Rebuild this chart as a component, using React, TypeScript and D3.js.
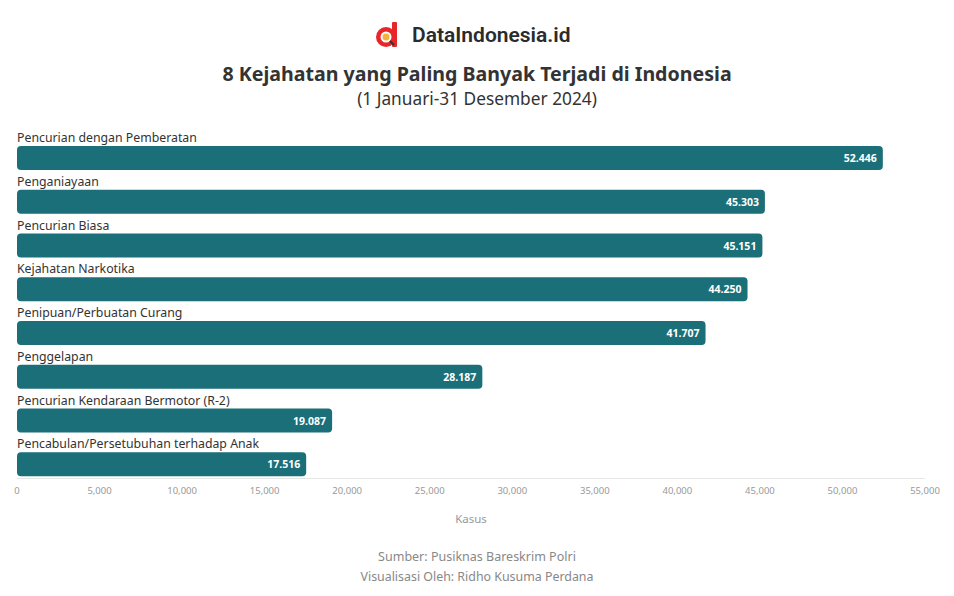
import React from "react";
import * as d3 from "d3";

const categories = [
  "Pencurian dengan Pemberatan",
  "Penganiayaan",
  "Pencurian Biasa",
  "Kejahatan Narkotika",
  "Penipuan/Perbuatan Curang",
  "Penggelapan",
  "Pencurian Kendaraan Bermotor (R-2)",
  "Pencabulan/Persetubuhan terhadap Anak",
];
const values = [52446, 45303, 45151, 44250, 41707, 28187, 19087, 17516];
const ticks = [0, 5000, 10000, 15000, 20000, 25000, 30000, 35000, 40000, 45000, 50000, 55000];

const W = 954;
const H = 596;
const FONT = "'Noto Sans', 'Open Sans', sans-serif";

export default function App() {
  const x = d3.scaleLinear().domain([0, 55000]).range([17, 925]);
  const y = d3.scaleBand<string>().domain(categories).range([128, 478]).paddingInner(0).paddingOuter(0);
  const fmt = (v: number) => d3.format(",")(v).replace(/,/g, ".");
  const fmtTick = (v: number) => d3.format(",")(v);
  const barH = 24;
  return (
    <svg width={W} height={H} style={{ position: "absolute", left: 0, top: 0, background: "#fff" }} fontFamily={FONT}>
      {/* logo */}
      <g transform="translate(376,22)">
        <circle cx={10} cy={15} r={10} fill="#e8262a" />
        <rect x={16} y={0} width={5} height={25} rx={1} fill="#e8262a" />
        <circle cx={10} cy={15} r={5.5} fill="#fff" />
        <circle cx={10} cy={15} r={3.5} fill="#f3b23a" />
        <line x1={14} y1={19} x2={18} y2={23} stroke="#333" strokeWidth={2} />
      </g>
      <text x={412} y={42} fontSize={21} fontWeight={600} fill="#2b2b2b" fontFamily="Roboto, sans-serif">DataIndonesia.id</text>
      <text x={477} y={81} textAnchor="middle" fontSize={19.6} fontWeight={700} fill="#333">8 Kejahatan yang Paling Banyak Terjadi di Indonesia</text>
      <text x={477} y={105} textAnchor="middle" fontSize={17.3} fill="#333">(1 Januari-31 Desember 2024)</text>

      <line x1={17} x2={925} y1={478.5} y2={478.5} stroke="#e6e6e6" />
      {categories.map((c, i) => {
        const y0 = (y(c) as number) + 18;
        const xe = x(values[i]);
        return (
          <g key={c}>
            <text x={17} y={y0 - 4} fontSize={12.3} fill="#333">{c}</text>
            <rect x={x(0)} y={y0} width={xe - x(0)} height={barH} rx={4} fill="#1b6f79" />
            <text x={xe - 6} y={y0 + barH / 2 + 4} textAnchor="end" fontSize={10.5} fontWeight={700} fill="#fff">{fmt(values[i])}</text>
          </g>
        );
      })}
      {ticks.map((t) => (
        <text key={t} x={x(t)} y={494} textAnchor="middle" fontSize={9.5} fill="#999">{fmtTick(t)}</text>
      ))}
      <text x={471} y={523} textAnchor="middle" fontSize={11.5} fill="#999">Kasus</text>
      <text x={477} y={561} textAnchor="middle" fontSize={12.5} fill="#888">Sumber: Pusiknas Bareskrim Polri</text>
      <text x={477} y={581} textAnchor="middle" fontSize={12.4} fill="#888">Visualisasi Oleh: Ridho Kusuma Perdana</text>
    </svg>
  );
}
